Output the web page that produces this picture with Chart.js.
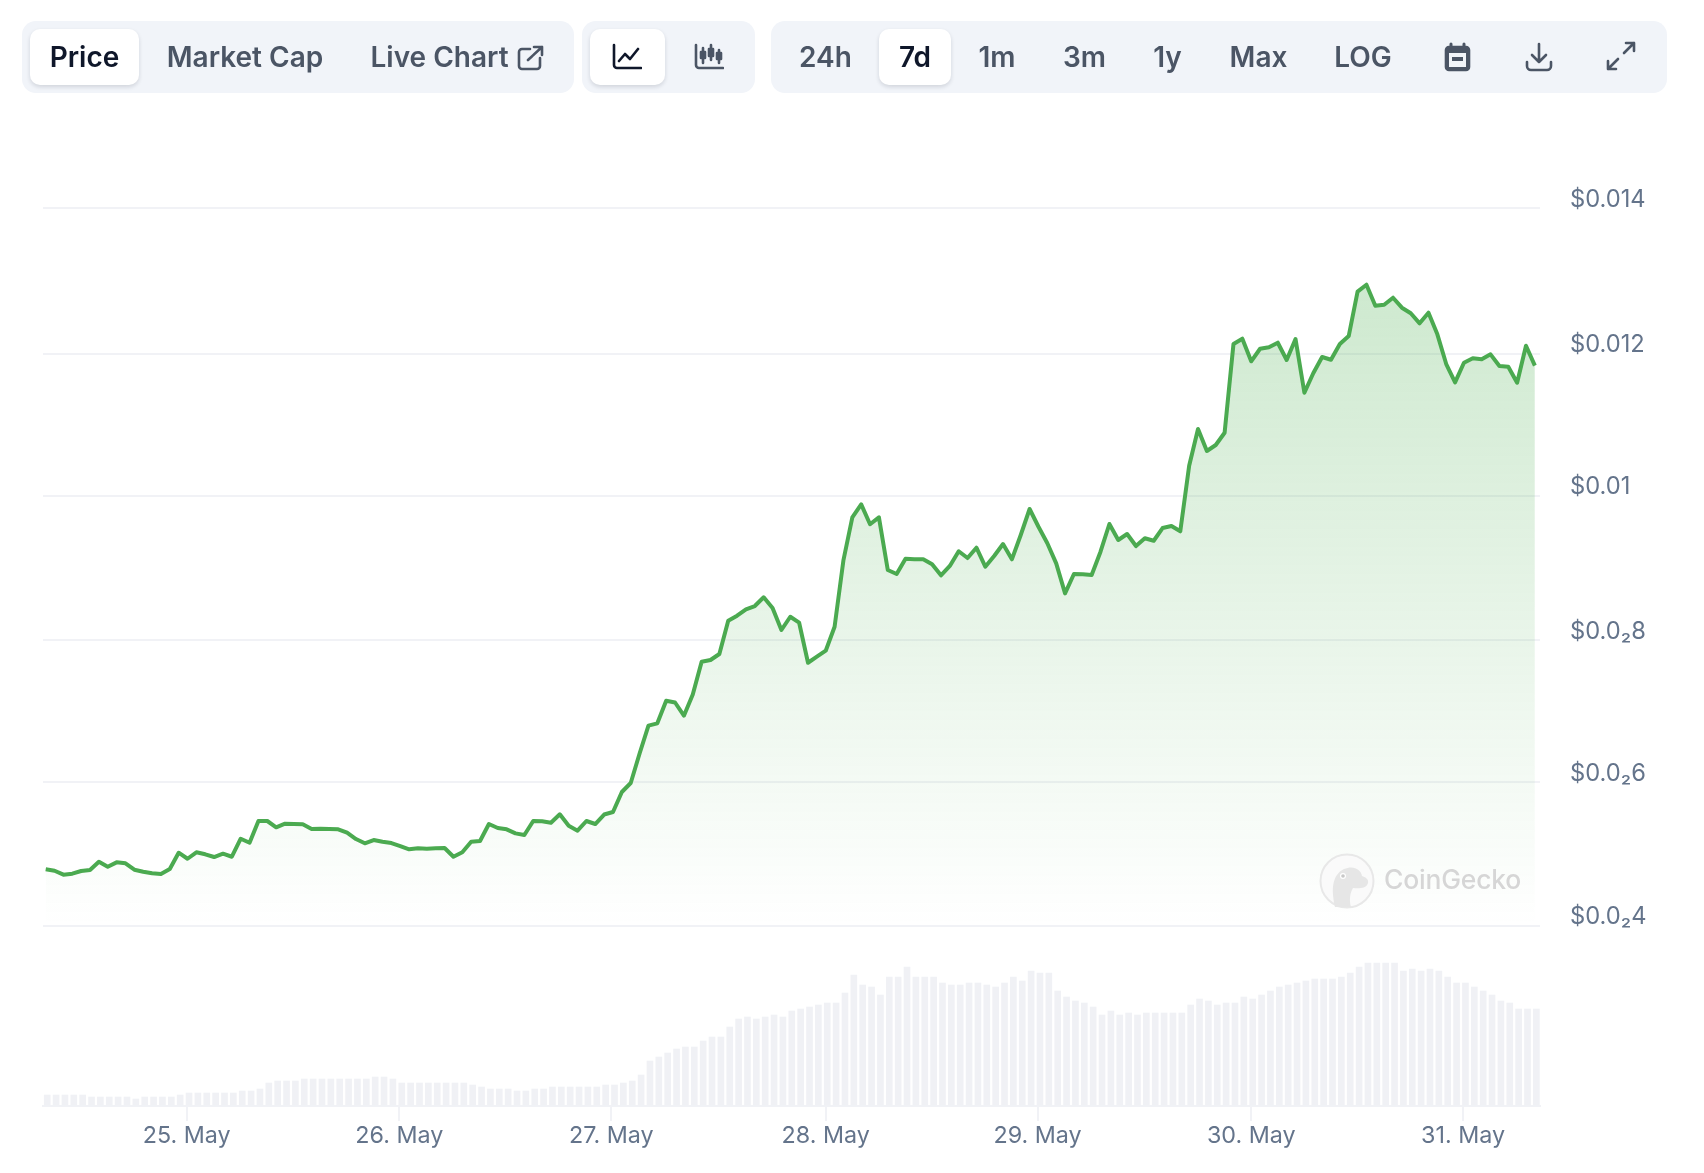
<!DOCTYPE html>
<html>
<head>
<meta charset="utf-8">
<title>Price chart</title>
<script src="https://cdn.jsdelivr.net/npm/chart.js@4/dist/chart.umd.min.js"></script>
<style>
  html, body { margin: 0; padding: 0; background: #fff; }
  body { width: 1704px; height: 1173px; position: relative; overflow: hidden; font-family: Inter, sans-serif; }
  canvas { position: absolute; left: 0; top: 0; }
  .pill { position: absolute; top: 21px; height: 72px; background: #f1f4f9; border-radius: 14px; }
  .active { position: absolute; top: 29px; height: 56px; background: #fff; border-radius: 10px; box-shadow: 0 2px 4px rgba(15, 23, 42, .14); }
  .btn { position: absolute; top: 40px; height: 34px; line-height: 34px; font-size: 28px; font-weight: 600; color: #4b5565; white-space: nowrap; transform: translateX(-50%); }
  .btn.on { color: #0f172a; }
  svg.icon { position: absolute; fill: none; stroke: #4b5565; stroke-width: 2.6; stroke-linecap: round; stroke-linejoin: round; }
  svg.icon.on { stroke: #0f172a; }
  .mark { position: absolute; left: 1384px; top: 862px; font-size: 26.5px; font-weight: 500; color: #d6d6d6; line-height: 34px; letter-spacing: -.2px; }
</style>
</head>
<body>
<canvas id="priceChart" width="1704" height="1173"></canvas>

<div class="pill" style="left:22px;width:552px"></div>
<div class="pill" style="left:582px;width:173px"></div>
<div class="pill" style="left:771px;width:896px"></div>
<div class="active" style="left:30px;width:109px"></div>
<div class="active" style="left:590px;width:75px"></div>
<div class="active" style="left:879px;width:72px"></div>

<div class="btn on" style="left:84.5px">Price</div>
<div class="btn" style="left:245px">Market Cap</div>
<div class="btn" style="left:439.5px">Live Chart</div>
<div class="btn" style="left:825.5px">24h</div>
<div class="btn on" style="left:915px">7d</div>
<div class="btn" style="left:997px">1m</div>
<div class="btn" style="left:1084.5px">3m</div>
<div class="btn" style="left:1167.5px">1y</div>
<div class="btn" style="left:1258.5px">Max</div>
<div class="btn" style="left:1363px">LOG</div>

<svg class="icon" style="left:517px;top:45px" width="28" height="26" viewBox="0 0 28 26">
  <path d="M13 4H5a3 3 0 0 0-3 3v14a3 3 0 0 0 3 3h15a3 3 0 0 0 3-3v-8M11 15L25 2M17 2h8v8"/>
</svg>
<svg class="icon on" style="left:612px;top:43px" width="30" height="27" viewBox="0 0 30 27">
  <path d="M2 2v20a3 3 0 0 0 3 3h24M7 18l6-7 5 5 8-10"/>
</svg>
<svg class="icon" style="left:694px;top:43px" width="30" height="27" viewBox="0 0 30 27">
  <path d="M2 2v20a3 3 0 0 0 3 3h24M9 5v15M17 2v15M25 7v13"/>
  <path d="M7 9h4v6H7zM15 6h4v7h-4zM23 10h4v6h-4z" fill="#4b5565"/>
</svg>
<svg class="icon" style="left:1444px;top:42px" width="27" height="30" viewBox="0 0 27 30">
  <path d="M7 2v4M20 2v4" stroke-width="3"/>
  <rect x="2" y="5" width="23" height="23" rx="3" fill="#4b5565"/>
  <rect x="5" y="11" width="17" height="14" fill="#f1f4f9" stroke="none"/>
  <rect x="8" y="15" width="11" height="4" fill="#4b5565" stroke="none"/>
</svg>
<svg class="icon" style="left:1525px;top:42px" width="28" height="30" viewBox="0 0 28 30">
  <path d="M14 2v18M7 13l7 7 7-7M2 20v4a4 4 0 0 0 4 4h16a4 4 0 0 0 4-4v-4"/>
</svg>
<svg class="icon" style="left:1606px;top:41px" width="30" height="30" viewBox="0 0 30 30">
  <path d="M18 12L28 2M20 2h8v8M12 18L2 28M2 20v8h8"/>
</svg>

<svg style="position:absolute;left:1319px;top:853px" width="56" height="56" viewBox="0 0 56 56">
  <circle cx="28" cy="28" r="26.5" fill="#fafafa" stroke="#e8e8e8" stroke-width="2"/>
  <path d="M16 54C12 36 13 22 25 16c9-4 17 0 18 7 3 1 7 3 6 7-1 5-9 6-15 5-3 5-4 12-2 19z" fill="#e6e6e6"/>
  <circle cx="24" cy="23" r="3" fill="#fff"/>
  <circle cx="24" cy="23" r="1.8" fill="#c8c8c8"/>
</svg>
<div class="mark">CoinGecko</div>

<script>
// hourly prices in USD
const prices = [
  0.004786, 0.004766, 0.004711, 0.004725, 0.004762, 0.004776, 0.004892, 0.004822, 0.004883, 0.004869,
  0.004780, 0.004752, 0.004730, 0.004720, 0.004790, 0.005017, 0.004933, 0.005023, 0.004995, 0.004957,
  0.005003, 0.004961, 0.005212, 0.005156, 0.005459, 0.005459, 0.005371, 0.005421, 0.005417, 0.005413,
  0.005347, 0.005351, 0.005347, 0.005343, 0.005296, 0.005208, 0.005148, 0.005194, 0.005170, 0.005152,
  0.005110, 0.005064, 0.005078, 0.005073, 0.005078, 0.005083, 0.004961, 0.005023, 0.005170, 0.005180,
  0.005417, 0.005361, 0.005343, 0.005287, 0.005264, 0.005459, 0.005455, 0.005435, 0.005552, 0.005393,
  0.005324, 0.005459, 0.005417, 0.005549, 0.005584, 0.005863, 0.005988, 0.006399, 0.006787, 0.006820,
  0.007135, 0.007110, 0.006926, 0.007221, 0.007678, 0.007702, 0.007786, 0.008250, 0.008319, 0.008408,
  0.008454, 0.008576, 0.008427, 0.008120, 0.008305, 0.008222, 0.007664, 0.007748, 0.007832, 0.008166,
  0.009095, 0.009690, 0.009871, 0.009593, 0.009690, 0.008956, 0.008900, 0.009113, 0.009105, 0.009105,
  0.009035, 0.008882, 0.009012, 0.009217, 0.009123, 0.009267, 0.009002, 0.009151, 0.009318, 0.009105,
  0.009444, 0.009806, 0.009559, 0.009328, 0.009049, 0.008631, 0.008900, 0.008896, 0.008886, 0.009211,
  0.009597, 0.009374, 0.009458, 0.009290, 0.009398, 0.009364, 0.009541, 0.009569, 0.009495, 0.010409,
  0.010921, 0.010614, 0.010698, 0.010869, 0.012105, 0.012179, 0.011864, 0.012039, 0.012059, 0.012123,
  0.011882, 0.012175, 0.011426, 0.011697, 0.011924, 0.011886, 0.012105, 0.012216, 0.012834, 0.012931,
  0.012639, 0.012652, 0.012750, 0.012611, 0.012533, 0.012393, 0.012541, 0.012240, 0.011826, 0.011571,
  0.011844, 0.011906, 0.011892, 0.011961, 0.011798, 0.011789, 0.011566, 0.012081, 0.011803
];

// hourly volume bars, no scale in the picture so these are bar heights
const volumes = [
  10, 10, 10, 10, 10, 8, 8, 8, 8, 8, 6, 8, 8, 8, 8, 10, 12, 12, 12, 12,
  12, 12, 14, 14, 16, 22, 24, 24, 24, 26, 26, 26, 26, 26, 26, 26, 26, 28, 28, 26,
  22, 22, 22, 22, 22, 22, 22, 22, 20, 18, 16, 16, 16, 14, 14, 16, 16, 18, 18, 18,
  18, 18, 18, 20, 20, 22, 24, 30, 44, 48, 52, 56, 58, 58, 64, 68, 68, 78, 86, 88,
  86, 88, 90, 88, 94, 96, 98, 100, 102, 102, 112, 130, 120, 118, 110, 128, 128, 138, 128, 128,
  128, 122, 120, 120, 122, 122, 120, 118, 122, 128, 124, 134, 132, 132, 114, 108, 104, 102, 98, 90,
  94, 90, 92, 90, 92, 92, 92, 92, 92, 100, 106, 104, 100, 102, 102, 108, 106, 110, 114, 118,
  120, 122, 124, 126, 126, 126, 128, 132, 138, 142, 142, 142, 142, 134, 136, 134, 136, 134, 128, 122,
  122, 118, 114, 110, 104, 102, 96, 96, 96
];

const dayLabels = ["25. May", "26. May", "27. May", "28. May", "29. May", "30. May", "31. May"];
const dayHours = [15.9, 39.9, 63.8, 88, 111.9, 136, 159.9];
// where the gridlines really sit, the source rounds its labels
const priceTicks = [0.004, 0.006002, 0.007981, 0.009991, 0.01197, 0.014];
const priceLabels = ["$0.0₂4", "$0.0₂6", "$0.0₂8", "$0.01", "$0.012", "$0.014"];

const barShift = 0.17;
const gridColor = "#f1f2f6";

function areaGradient(context) {
  const chart = context.chart;
  if (!chart.chartArea) return "rgba(76, 175, 80, 0.1)";
  const yScale = chart.scales.y;
  const g = chart.ctx.createLinearGradient(0, yScale.getPixelForValue(0.0129), 0, yScale.getPixelForValue(0.004));
  g.addColorStop(0, "rgba(76, 175, 80, 0.275)");
  g.addColorStop(1, "rgba(76, 175, 80, 0)");
  return g;
}

new Chart(document.getElementById("priceChart"), {
  type: "bar",
  data: {
    datasets: [
      {
        type: "line",
        label: "Price",
        data: prices.map((p, i) => ({ x: i, y: p })),
        yAxisID: "y",
        borderColor: "#4baa50",
        borderWidth: 4,
        borderJoinStyle: "round",
        pointRadius: 0,
        tension: 0,
        fill: { value: 0.004 },
        backgroundColor: areaGradient,
        order: 1
      },
      {
        type: "bar",
        label: "Volume",
        data: volumes.map((v, i) => ({ x: i + barShift, y: v })),
        yAxisID: "y2",
        backgroundColor: "#f0f1f5",
        barThickness: 6,
        order: 2
      }
    ]
  },
  options: {
    responsive: false,
    animation: false,
    events: [],
    layout: { padding: { left: 43, top: 208, right: 0, bottom: 0 } },
    plugins: { legend: { display: false }, tooltip: { enabled: false } },
    scales: {
      x: {
        type: "linear",
        offset: false,
        min: -0.305,
        max: 168.58,
        afterBuildTicks: scale => { scale.ticks = dayHours.map(h => ({ value: h })); },
        afterFit: scale => {
          scale.height = 67;
          scale.paddingLeft = 0;
          scale.paddingRight = 0;
        },
        grid: { offset: false, drawOnChartArea: false, color: gridColor, tickLength: 15, lineWidth: 2 },
        border: { color: gridColor, width: 2 },
        ticks: {
          autoSkip: false,
          maxRotation: 0,
          padding: 1,
          color: "#64748b",
          font: { family: "Inter", size: 23.3 },
          callback: (value, index) => dayLabels[index]
        }
      },
      y: {
        position: "right",
        min: 0.001488,
        max: 0.014,
        afterBuildTicks: scale => { scale.ticks = priceTicks.map(v => ({ value: v })); },
        afterFit: scale => {
          scale.width = 164;
          scale.paddingTop = 0;
          scale.paddingBottom = 0;
        },
        grid: { color: gridColor, lineWidth: 2, drawTicks: false },
        border: { display: false },
        ticks: {
          autoSkip: false,
          padding: 30,
          labelOffset: -8.5,
          color: "#64748b",
          font: { family: "Inter", size: 23.7 },
          callback: (value, index) => priceLabels[index]
        }
      },
      y2: {
        display: false,
        min: -1,
        max: 897
      }
    }
  }
});
</script>
</body>
</html>
